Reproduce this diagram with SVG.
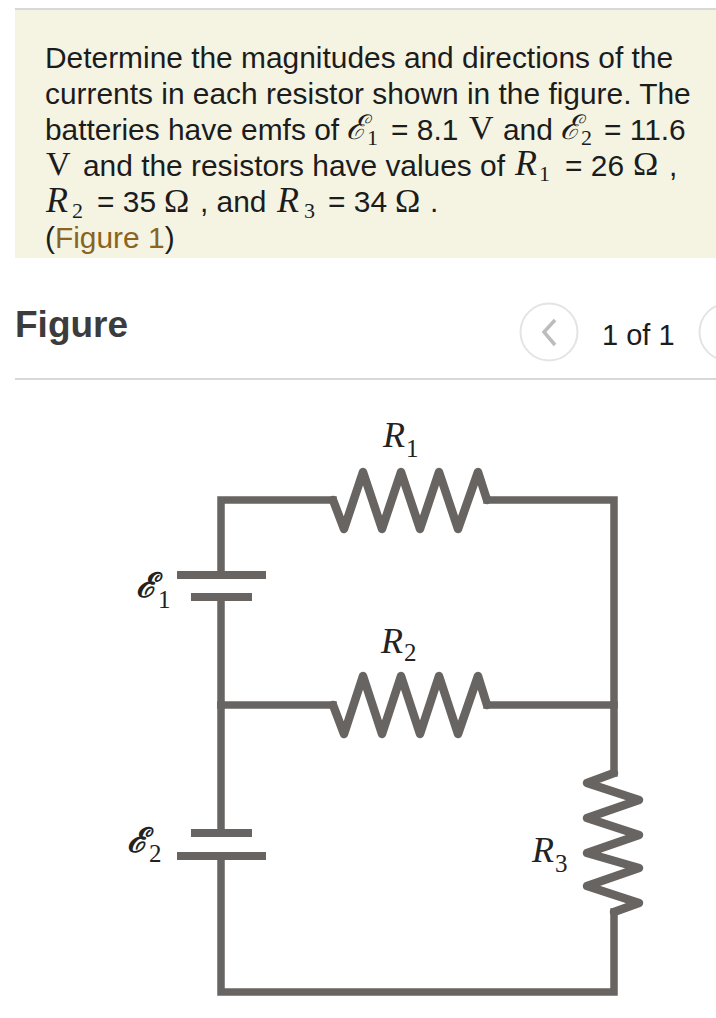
<svg xmlns="http://www.w3.org/2000/svg" width="716" height="1018" viewBox="0 0 716 1018">
<style>
.t{font-family:"Liberation Sans",Arial,sans-serif;font-size:29.900px;fill:#1c1c1c}
.m{font-family:"Liberation Serif","DejaVu Serif",serif;font-size:34px;fill:#1c1c1c}
.i{font-style:italic}
.s{font-family:"Liberation Serif","DejaVu Serif",serif;font-size:22px;fill:#1c1c1c}
.w{fill:none;stroke:#686462;stroke-width:7.500;stroke-linejoin:miter;stroke-linecap:square}
.z{fill:none;stroke:#686462;stroke-width:8.500;stroke-linejoin:round;stroke-linecap:round}
.p{stroke:#686462;stroke-width:8;fill:none}
.l{font-family:"Liberation Serif","DejaVu Serif",serif;fill:#222}
</style>
<rect width="716" height="1018" fill="#fff"/>
<g id="prompt">
<rect x="15" y="10" width="701" height="248" fill="#f5f4e3"/>
<rect x="15" y="8" width="701" height="2" fill="#d8d8d8"/>
<text class="t" x="45" y="68">Determine the magnitudes and directions of the</text>
<text class="t" x="45" y="104">currents in each resistor shown in the figure. The</text>
<text class="t" x="45" y="140">batteries have emfs of</text>
<text class="m i" x="346" y="139" font-size="36">ℰ</text><text class="s" x="367" y="145">1</text>
<text class="t" x="391" y="140">= 8.1</text>
<text class="m" x="469" y="139">V</text>
<text class="t" x="503" y="140">and</text>
<text class="m i" x="560" y="139" font-size="36">ℰ</text><text class="s" x="581" y="145">2</text>
<text class="t" x="604" y="140">= 11.6</text>
<text class="m" x="46" y="175">V</text>
<text class="t" x="83" y="176">and the resistors have values of</text>
<text class="m i" x="515" y="175" style="font-size:36px">R</text><text class="s" x="539" y="181">1</text>
<text class="t" x="565" y="176">= 26</text>
<text class="m" x="633" y="175">Ω</text>
<text class="t" x="669" y="176">,</text>
<text class="m i" x="46" y="212" style="font-size:36px">R</text><text class="s" x="72" y="218">2</text>
<text class="t" x="97" y="212">= 35</text>
<text class="m" x="164" y="212">Ω</text>
<text class="t" x="200" y="212">, and</text>
<text class="m i" x="277" y="212" style="font-size:36px">R</text><text class="s" x="304" y="218">3</text>
<text class="t" x="328" y="212">= 34</text>
<text class="m" x="395" y="212">Ω</text>
<text class="t" x="430" y="212">.</text>
<text class="t" x="45" y="248">(<tspan fill="#8a6420">Figure 1</tspan>)</text>
</g>
<g id="header">
<text x="15" y="337" style="font-family:'Liberation Sans',Arial,sans-serif;font-size:37px;font-weight:bold;fill:#3c3c3c">Figure</text>
<circle cx="549" cy="332" r="28.500" fill="#fff" stroke="#e4e4e4" stroke-width="2"/>
<path d="M555 320 L544 332 L555 345" fill="none" stroke="#bcbcbc" stroke-width="3.500"/>
<text x="602" y="345" style="font-family:'Liberation Sans',Arial,sans-serif;font-size:29px;fill:#1c1c1c">1 of 1</text>
<circle cx="728" cy="332" r="28.500" fill="#fff" stroke="#e4e4e4" stroke-width="2"/>
<rect x="15" y="378" width="701" height="2" fill="#d8d8d8"/>
</g>
<g id="connectors">
<path class="w" d="M221 575V500H333"/>
<path class="w" d="M487 500H614V705"/>
<path class="w" d="M221 597V705"/>
<path class="w" d="M221 705V833"/>
<path class="w" d="M221 705H333"/>
<path class="w" d="M487 705H614V773"/>
<path class="w" d="M614 912V992H221V856"/>
</g>
<g id="R1">
<path class="z" d="M333 500L344 529L363 472L382 529L401 472L420 529L439 472L458 529L478 472L487 500"/>
<text class="l i" x="383" y="447" font-size="36">R</text><text class="l" x="406" y="457" font-size="25">1</text>
</g>
<g id="R2">
<path class="z" d="M333 705L344 734L363 676L382 734L401 676L420 734L439 676L458 734L478 676L487 705"/>
<text class="l i" x="381" y="653" font-size="36">R</text><text class="l" x="404" y="661" font-size="25">2</text>
</g>
<g id="R3">
<path class="z" d="M614 773L587 783L639 800L587 818L639 835L587 853L639 868L587 886L639 903L614 912"/>
<text class="l i" x="532" y="862" font-size="36">R</text><text class="l" x="555" y="872" font-size="25">3</text>
</g>
<g id="E1">
<path class="p" d="M177 575H266M191 597H252"/>
<text class="l i" x="136" y="597" font-size="34" font-weight="bold">ℰ</text><text class="l" x="158" y="608" font-size="25">1</text>
</g>
<g id="E2">
<path class="p" d="M191 833H252M177 856H266"/>
<text class="l i" x="127" y="852" font-size="34" font-weight="bold">ℰ</text><text class="l" x="149" y="862" font-size="25">2</text>
</g>
</svg>
